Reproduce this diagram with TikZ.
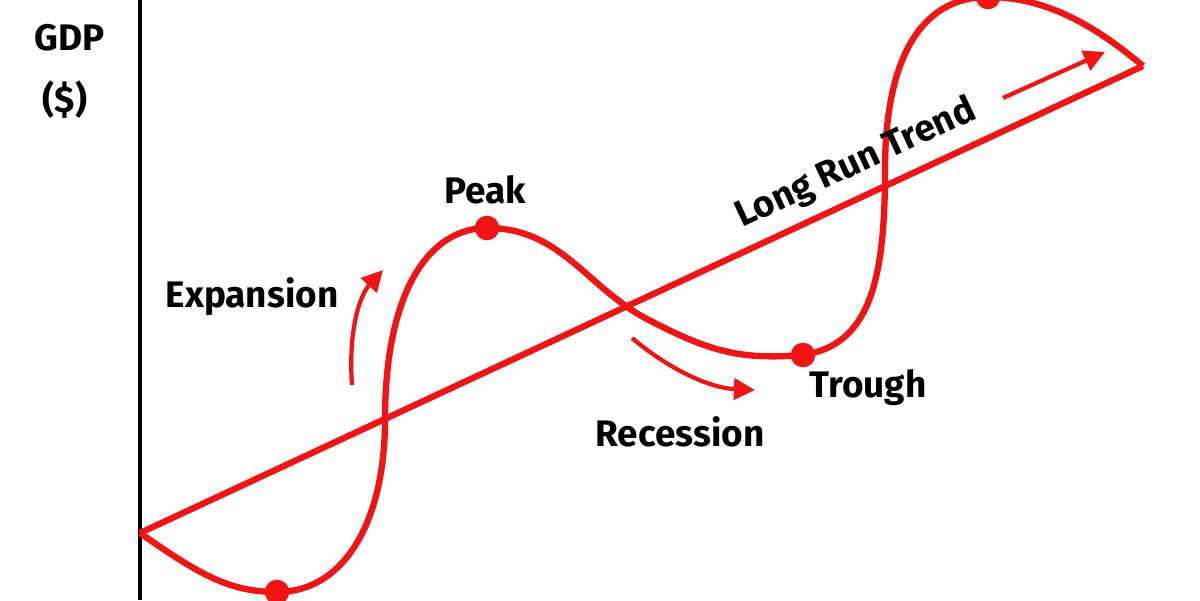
\documentclass[tikz,border=0pt]{standalone}
\usepackage{fontspec}
\setmainfont{Fira Sans}
\usetikzlibrary{arrows.meta}
\definecolor{cred}{RGB}{240,20,20}
\begin{document}
\begin{tikzpicture}[x=0.01cm,y=-0.01cm,
  lbl/.style={font=\fontsize{10.5}{12}\selectfont\bfseries, text=black},
  thickred/.style={draw=cred, line width=1.8pt},
  arr/.style={draw=cred, line width=1.2pt, -{Triangle[length=6pt,width=6pt]}},
  dot/.style={circle, fill=cred, inner sep=0pt, minimum size=7pt}]
\useasboundingbox (0,0) rectangle (1200,600);
\draw[line width=1pt] (140,0) -- (140,600);
\node[lbl] (gdp) at (70,38) {GDP};
\node[lbl] (usd) at (65,100) {(\$)};
\coordinate (t0) at (140,533);
\coordinate (t1) at (1143,66);
\draw[thickred] (t0) -- (t1);
\draw[thickred] (t0) .. controls (200,575) and (230,592) .. (277,592)
  .. controls (345,592) and (385,520) .. (385,420)
  .. controls (385,290) and (430,228) .. (487,228)
  .. controls (560,228) and (585,285) .. (645,318)
  .. controls (710,352) and (740,360) .. (803,355)
  .. controls (870,345) and (885,280) .. (885,170)
  .. controls (885,60) and (920,-3) .. (988,-3)
  .. controls (1050,-3) and (1100,30) .. (t1);
\node[dot] (tr1) at (277,592) {};
\node[dot] (pk1) at (487,228) {};
\node[dot] (tr2) at (803,355) {};
\node[dot] (pk2) at (988,-3) {};
\node[lbl] (peak) at (485,190) {Peak};
\node[lbl] (exp) at (252,297) {Expansion};
\node[lbl] (trough) at (868,388) {Trough};
\node[lbl] (rec) at (680,432) {Recession};
\node[lbl, rotate=25] (lrt) at (856,164) {Long Run Trend};
\coordinate (e0) at (352,385); \coordinate (e1) at (383,270);
\draw[arr] (e0) .. controls (348,330) and (360,295) .. (e1);
\coordinate (r0) at (632,338); \coordinate (r1) at (755,390);
\draw[arr] (r0) .. controls (670,370) and (710,388) .. (r1);
\coordinate (l0) at (1003,98); \coordinate (l1) at (1105,52);
\draw[arr] (l0) -- (l1);
\end{tikzpicture}
\end{document}
